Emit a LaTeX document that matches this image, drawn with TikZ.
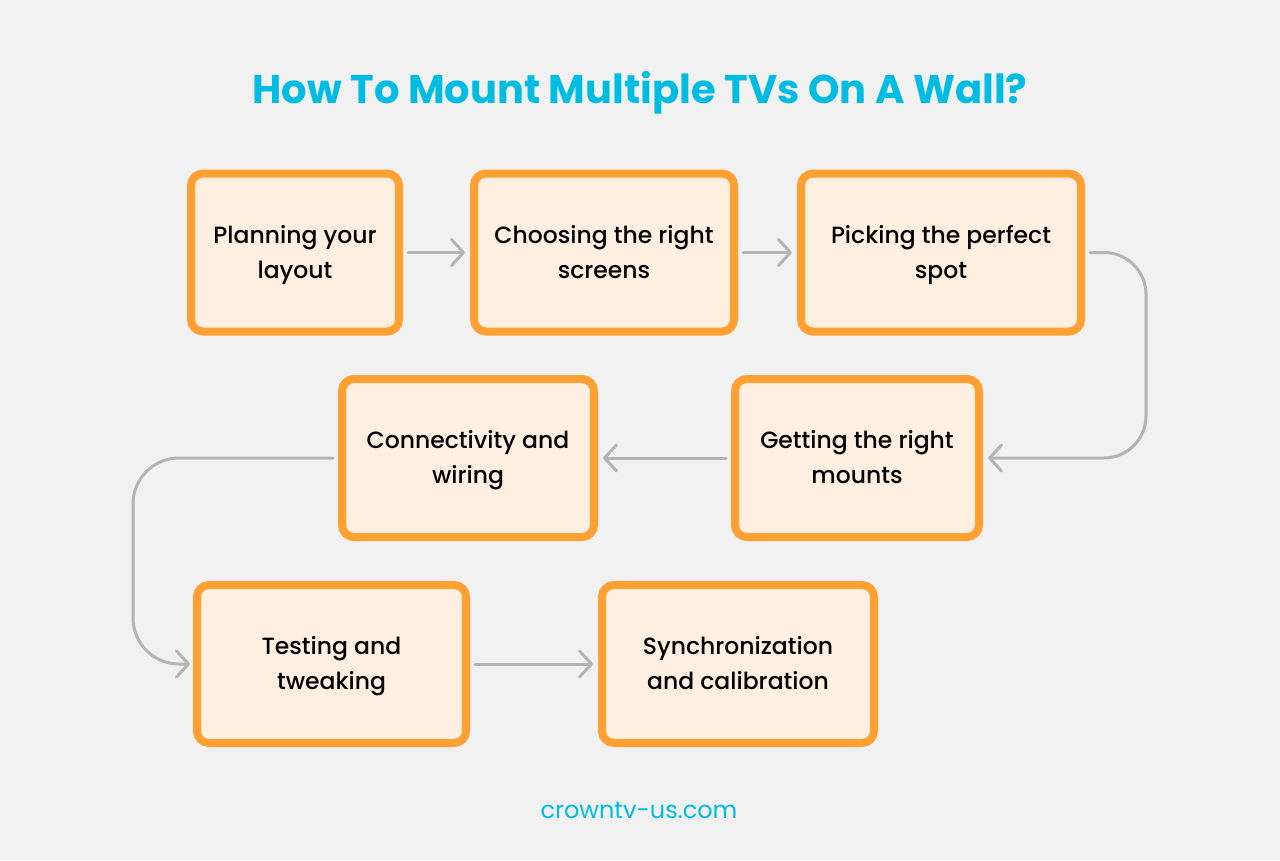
\documentclass[tikz,border=0pt]{standalone}
\usepackage{fontspec}
\setmainfont{Poppins}
\newfontfamily\medfont{Poppins Medium}
\usetikzlibrary{arrows.meta}
\definecolor{bgc}{HTML}{F1F1F1}
\definecolor{titlec}{HTML}{00BBE2}
\definecolor{boxline}{HTML}{FFA033}
\definecolor{boxfill}{HTML}{FFEFE0}
\definecolor{arrc}{HTML}{B4B4B4}
\tikzset{
  stepbox/.style={draw=boxline, fill=boxfill, line width=8pt, rounded corners=12pt,
    minimum height=158pt, align=center, font=\medfont\fontsize{23.5}{35}\selectfont, text=black,
    text height=51.5pt, text depth=0pt},
  arr/.style={draw=arrc, line width=3pt, line cap=round,
    -{Straight Barb[length=12pt,width=26pt,round]}, shorten >=5pt, shorten <=5pt}
}
\begin{document}
\begin{tikzpicture}[x=1pt,y=-1pt]
\path[fill=bgc,use as bounding box] (0,0) rectangle (1280,860);
\node[font=\bfseries\fontsize{40}{46}\selectfont, text=titlec, anchor=base] (title) at (640,103) {How To Mount Multiple TVs On A Wall?};
\node[stepbox, minimum width=208pt] (n1) at (295,252.5) {Planning your\\layout};
\node[stepbox, minimum width=260pt] (n2) at (604,252.5) {Choosing the right\\screens};
\node[stepbox, minimum width=280pt] (n3) at (941,252.5) {Picking the perfect\\spot};
\node[stepbox, minimum width=244pt] (n4) at (857,458) {Getting the right\\mounts};
\node[stepbox, minimum width=252pt] (n5) at (468,458) {Connectivity and\\wiring};
\node[stepbox, minimum width=269pt] (n6) at (331.5,664) {Testing and\\tweaking};
\node[stepbox, minimum width=272pt] (n7) at (738,664) {Synchronization\\and calibration};
\node[font=\fontsize{24}{28}\selectfont, text=titlec, anchor=base] (foot) at (639,818) {crowntv-us.com};
\draw[arr] (n1) -- (n2);
\draw[arr] (n2) -- (n3);
\draw[arr, rounded corners=42pt] (n3.east) -- ([xshift=61pt]n3.east) |- (n4.east);
\draw[arr] (n4) -- (n5);
\draw[arr, rounded corners=46pt, shorten >=3pt] (n5.west) -- ([xshift=-205pt]n5.west) |- (n6.west);
\draw[arr] (n6) -- (n7);
\end{tikzpicture}
\end{document}
